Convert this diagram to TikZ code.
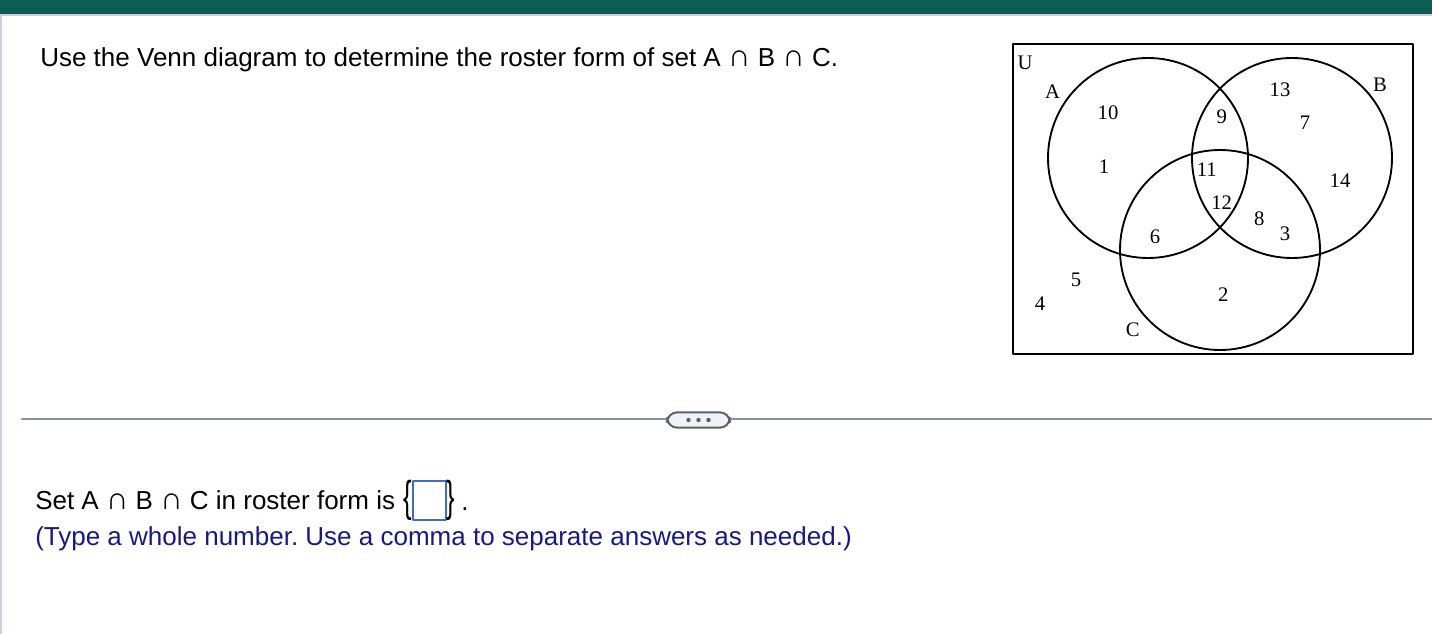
\documentclass[tikz,border=0pt]{standalone}
\usepackage{fontspec}
\setmainfont{Liberation Sans}
\newfontfamily\vennfont{Liberation Serif}
\usetikzlibrary{positioning}
\frenchspacing
\newcommand\capsym{\scalebox{1.2}{∩}}
\definecolor{topgreen}{RGB}{12,94,84}
\definecolor{edgegray}{RGB}{200,209,222}
\definecolor{rulegray}{RGB}{138,143,158}
\definecolor{pillfill}{RGB}{240,242,245}
\definecolor{pilldraw}{RGB}{88,96,110}
\definecolor{hintblue}{RGB}{24,24,140}
\definecolor{boxblue}{RGB}{60,110,200}
\tikzset{
  setcircle/.style={line width=1.4pt},
  elem/.style={font=\vennfont\fontsize{15.5}{15.5}\selectfont, inner sep=0pt},
  setname/.style={font=\vennfont\fontsize{15.5}{15.5}\selectfont, inner sep=0pt},
  qtext/.style={font=\fontsize{19.5}{19.5}\selectfont, anchor=base west, inner sep=0pt},
  bracetext/.style={font=\fontsize{24}{24}\selectfont, inner sep=0pt},
}
\begin{document}
\begin{tikzpicture}[x=0.75pt,y=-0.75pt, line join=round, line cap=round]
	\useasboundingbox (0,0) rectangle (1432,634);
	% page frame
	\fill[topgreen] (0,0) rectangle (1432,14);
	\fill[edgegray] (0,14) rectangle (1432,16.5);
	\fill[edgegray] (0,14) rectangle (2,634);
	% question
	\node[qtext] (title) at (40,67) {Use the Venn diagram to determine the roster form of set A \capsym{} B \capsym{} C.};
	% venn diagram
	\draw[line width=1.4pt] (1013,44) rectangle (1413,354);
	\draw[setcircle] (1148,158) circle (100);
	\draw[setcircle] (1292,158) circle (100);
	\draw[setcircle] (1220,250) circle (100);
	\node[setname] (U) at (1025,63) {U};
	\node[setname] (A) at (1052.7,91.7) {A};
	\node[setname] (B) at (1380,85) {B};
	\node[setname] (C) at (1132.7,330) {C};
	\node[elem] (e10) at (1108,112.7) {10};
	\node[elem] (e1) at (1104,166.7) {1};
	\node[elem] (e9) at (1221.7,116.7) {9};
	\node[elem] (e13) at (1280,90) {13};
	\node[elem] (e7) at (1305,122.7) {7};
	\node[elem] (e11) at (1206.7,170) {11};
	\node[elem] (e14) at (1340,180.7) {14};
	\node[elem] (e12) at (1221.7,202.7) {12};
	\node[elem] (e8) at (1259.3,218.3) {8};
	\node[elem] (e3) at (1285,234) {3};
	\node[elem] (e6) at (1155,236.7) {6};
	\node[elem] (e5) at (1076,280) {5};
	\node[elem] (e4) at (1040,304) {4};
	\node[elem] (e2) at (1223.3,295) {2};
	% separator
	\node[draw=pilldraw, fill=pillfill, line width=1.5pt, rounded corners=7.5pt,
		minimum width=47pt, minimum height=11.5pt, inner sep=0pt] (more) at (698.5,420) {};
	\coordinate (ruleL) at (22,419);
	\coordinate (ruleR) at (1432,419);
	\draw[rulegray, line width=1.6pt] (ruleL) -- (more.west |- ruleL);
	\draw[rulegray, line width=1.6pt] (more.east |- ruleR) -- (ruleR);
	\foreach \dx in {-10,0,10}
		\fill[pilldraw] ([xshift=\dx*0.75pt]more.center) circle (2.2);
	% answer line
	\node[qtext] (answer) at (35,509) {Set A \capsym{} B \capsym{} C in roster form is};
	\node[bracetext] (lbrace) at (408,500) {\scalebox{0.8}[1.35]{\{}};
	\draw[boxblue, line width=1.4pt] (413,481) rectangle (446,520);
	\node[bracetext] (rbrace) at (451,500) {\scalebox{0.8}[1.35]{\}}};
	\node[qtext] (stop) at (461,510) {.};
	\node[qtext, text=hintblue] (hint) at (35,546) {(Type a whole number. Use a comma to separate answers as needed.)};
\end{tikzpicture}
\end{document}
